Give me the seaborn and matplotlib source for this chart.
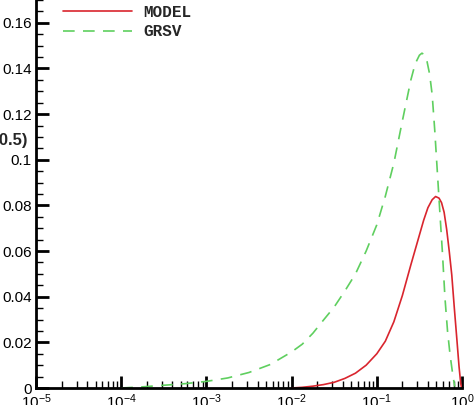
import numpy as np
import pandas as pd
import matplotlib
matplotlib.use("Agg")
import matplotlib.pyplot as plt
import seaborn as sns
from matplotlib.ticker import LogLocator, FixedLocator, MultipleLocator, FuncFormatter

# ---- data ----
model_x = [0.01, 0.01334, 0.01778, 0.02371, 0.03162, 0.04217, 0.05623, 0.07499, 0.1,
           0.1259, 0.1585, 0.1995, 0.2512, 0.3162, 0.3548, 0.3981, 0.4467, 0.4898,
           0.5370, 0.5754, 0.6166, 0.6607, 0.7079, 0.7586, 0.8128, 0.8710, 0.9226,
           0.9660, 0.9908]
model_y = [0.0, 0.0003, 0.0008, 0.0015, 0.0025, 0.0042, 0.0065, 0.0100, 0.0150,
           0.0205, 0.0290, 0.0405, 0.0540, 0.0670, 0.0735, 0.0790, 0.0825, 0.0839,
           0.0832, 0.0812, 0.0770, 0.0695, 0.0600, 0.0495, 0.0350, 0.0212, 0.0095,
           0.0020, 0.0]

grsv_x = [0.0001, 0.0001778, 0.0003162, 0.0005623, 0.001, 0.001778, 0.003162, 0.005623,
          0.01, 0.01334, 0.01778, 0.02371, 0.03162, 0.04217, 0.05623, 0.07499, 0.1,
          0.1259, 0.1585, 0.1995, 0.2512, 0.2818, 0.3162, 0.3388, 0.3631, 0.3890,
          0.4169, 0.4467, 0.4786, 0.5129, 0.5495, 0.5888, 0.6310, 0.6761, 0.7244,
          0.7762, 0.8222]
grsv_y = [0.0, 0.0005, 0.0012, 0.0019, 0.0029, 0.0044, 0.0068, 0.0103,
          0.0158, 0.0192, 0.0240, 0.0298, 0.0355, 0.0425, 0.0500, 0.0600, 0.0715,
          0.0840, 0.0985, 0.1170, 0.1350, 0.1420, 0.1458, 0.1467, 0.1460, 0.1430,
          0.1375, 0.1285, 0.1130, 0.0950, 0.0770, 0.0595, 0.0395, 0.0250, 0.0145,
          0.0063, 0.0006]

legend_labels = ["MODEL", "GRSV"]
y_ticks = [0, 0.02, 0.04, 0.06, 0.08, 0.1, 0.12, 0.14, 0.16]
y_label = "x\u0394g(x,Q\u00b2=0.5)"

# ---- style ----
sns.set_style("white")
plt.rcParams['font.family'] = ['Liberation Sans', 'DejaVu Sans']
plt.rcParams['mathtext.fontset'] = 'custom'
plt.rcParams['mathtext.rm'] = 'Liberation Sans'
plt.rcParams['mathtext.it'] = 'Liberation Sans:italic'

fig = plt.figure(figsize=(4.74, 4.05), dpi=100)
ax = fig.add_axes([36/474, 1 - 388/405, (462 - 36)/474, 388/405])

mdf = pd.DataFrame({"x": model_x, "y": model_y})
gdf = pd.DataFrame({"x": grsv_x, "y": grsv_y})

sns.lineplot(data=mdf, x="x", y="y", ax=ax, color="#d9252e", lw=1.2, label=legend_labels[0], sort=False)
sns.lineplot(data=gdf, x="x", y="y", ax=ax, color="#5fcf5f", lw=1.2, label=legend_labels[1], sort=False)
ax.lines[1].set_dashes([7, 5])
ax.lines[0].set_solid_joinstyle("round")

ax.set_xscale("log")
ax.set_xlim(1e-5, 1.0)
ax.set_ylim(0, 0.17)

ax.yaxis.set_major_locator(FixedLocator(y_ticks))
ax.yaxis.set_minor_locator(MultipleLocator(0.005))
ax.yaxis.set_major_formatter(FuncFormatter(lambda v, p: "%g" % v))
ax.xaxis.set_major_locator(LogLocator(base=10, numticks=10))
ax.xaxis.set_minor_locator(LogLocator(base=10, subs=np.arange(2, 10), numticks=20))

for s in ["top", "right"]:
    ax.spines[s].set_visible(False)
for s in ["left", "bottom"]:
    ax.spines[s].set_linewidth(2.0)
    ax.spines[s].set_color("black")

ax.tick_params(axis="both", which="major", direction="in", length=9, width=2, labelsize=11, colors="black", pad=3)
ax.tick_params(axis="both", which="minor", direction="in", length=5, width=1, colors="black")
ax.tick_params(axis="y", which="both", left=True)
ax.tick_params(axis="x", which="both", bottom=True)
ax.set_xlabel("")
ax.set_ylabel("")

fig.text(28/474, 1 - 140/405, y_label, ha="right", va="center", fontsize=12, fontweight="bold")

leg = ax.legend(loc="upper left", bbox_to_anchor=(0.03, 1.025), frameon=False,
                handlelength=4.3, handletextpad=0.7, labelspacing=0.3,
                prop={"family": "Liberation Mono", "weight": "bold", "size": 11.5})
for line in leg.get_lines():
    line.set_linewidth(1.2)

fig.savefig("out.png", dpi=100)
